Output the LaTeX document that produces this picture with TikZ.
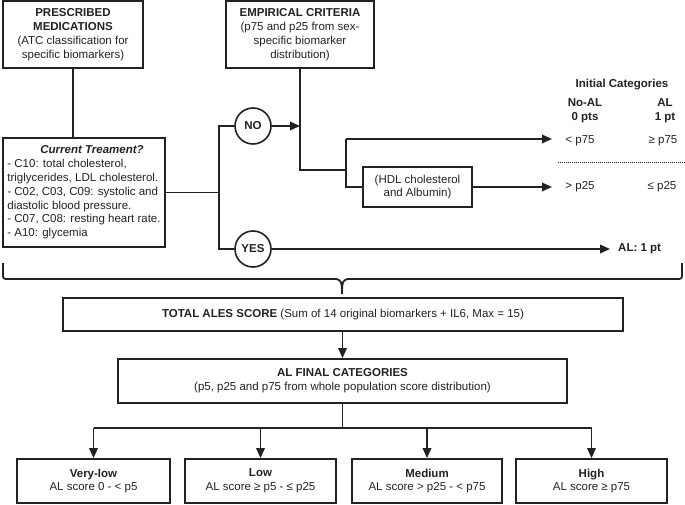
\documentclass[tikz,border=0pt]{standalone}
\usepackage{fontspec}
\setmainfont{Liberation Sans}
\usetikzlibrary{arrows.meta}
\definecolor{ink}{HTML}{222222}
\begin{document}
\begin{tikzpicture}[x=1pt,y=-1pt,
  every node/.style={font=\fontsize{11.5}{13.8}\selectfont, inner sep=0pt, text=ink},
  box/.style={draw=ink, line width=1.8pt, align=center},
  circ/.style={draw=ink, circle, line width=1.6pt, minimum size=36pt, font=\fontsize{11.5}{13.8}\selectfont\bfseries},
  conn/.style={draw=ink, line width=1.8pt},
  arr/.style={conn, -{Triangle[length=10pt,width=8.5pt]}},
  lbl/.style={align=center},
  blbl/.style={align=center, font=\fontsize{11.5}{13.8}\selectfont\bfseries},
]
\useasboundingbox (0,0) rectangle (685,505);

% top boxes
\node[box, minimum width=140pt, minimum height=67pt] (pres) at (73,34.5)
  {\textbf{PRESCRIBED}\\\textbf{MEDICATIONS}\\(ATC classification for\\specific biomarkers)};
\node[box, minimum width=148pt, minimum height=67pt] (emp) at (300,34.5)
  {\textbf{EMPIRICAL CRITERIA}\\(p75 and p25 from sex-\\specific biomarker\\distribution)};
\node[box, minimum width=162pt, minimum height=109pt, align=left] (cur) at (84,192.5)
  {\hspace*{33pt}\textbf{\textit{Current Treament?}}\\
   - C10: total cholesterol,\\
   triglycerides, LDL cholesterol.\\
   - C02, C03, C09: systolic and\\
   diastolic blood pressure.\\
   - C07, C08: resting heart rate.\\
   - A10: glycemia};
\draw[conn] (pres.south) -- (cur.north -| pres.south);

% decision circles
\node[circ] (no) at (253,126) {NO};
\node[circ] (yes) at (253,249) {YES};
\coordinate (jx) at (219,192.5);
\draw[conn] (cur.east) -- (jx);
\draw[conn] (no.west) -| (jx) |- (yes.west);

% empirical branch
\coordinate (e1) at (300,126);
\coordinate (e2) at (300,170);
\coordinate (jb) at (346,170);
\coordinate (t1) at (346,139);
\draw[arr] (no.east) -- (e1);
\draw[conn] (emp.south) -- (e2) -- (jb);
\node[box, minimum width=109pt, minimum height=40pt] (hdl) at (417.5,187)
  {(HDL cholesterol\\and Albumin)};
\draw[conn] (t1) -- (t1 |- hdl.west) -- (hdl.west);
\coordinate (a1) at (552,139);
\coordinate (a2) at (552,187);
\draw[arr] (t1) -- (a1);
\draw[arr] (hdl.east) -- (a2);

% yes branch
\node[blbl, anchor=west, inner xsep=8pt] (alpt) at (610,249) {AL: 1 pt};
\draw[arr] (yes.east) -- (alpt.west);

% initial categories
\node[blbl] (ic) at (622,85) {Initial Categories};
\node[blbl] (noal) at (585,111) {No-AL\\0 pts};
\node[blbl] (al) at (665,111) {AL\\1 pt};
\node[lbl] (lt75) at (580,141) {< p75};
\node[lbl] (ge75) at (663,141) {≥ p75};
\node[lbl] (gt25) at (580,187) {> p25};
\node[lbl] (le25) at (662,187) {≤ p25};
\coordinate (d1) at (558,163);
\coordinate (d2) at (685,163);
\draw[ink, line width=1pt, dash pattern=on 1pt off 1pt] (d1) -- (d2);

% brace
\coordinate (br1) at (3,263);
\coordinate (br2) at (682,263);
\coordinate (brt) at (342,294);
\draw[conn] (br1) -- (3,273) .. controls (3,279) .. (9,279) -- (334,279)
  .. controls (341,279) and (342,281) .. (brt)
  .. controls (342,281) and (343,279) .. (350,279) -- (676,279)
  .. controls (682,279) .. (682,273) -- (br2);

% total and final
\node[box, minimum width=560pt, minimum height=33pt] (total) at (343,314.5)
  {\textbf{TOTAL ALES SCORE} (Sum of 14 original biomarkers + IL6, Max = 15)};
\node[box, minimum width=449pt, minimum height=44pt] (final) at (342.5,381)
  {\textbf{AL FINAL CATEGORIES}\\(p5, p25 and p75 from whole population score distribution)};
\draw[arr] (final.north |- total.south) -- (final.north);

% bottom boxes
\node[box, minimum width=153pt, minimum height=44pt] (vl) at (93.5,481)
  {\textbf{Very-low}\\AL score 0 - < p5};
\node[box, minimum width=151pt, minimum height=44pt] (low) at (260.5,481)
  {\textbf{Low}\\AL score ≥ p5 - ≤ p25};
\node[box, minimum width=150pt, minimum height=44pt] (med) at (427,481)
  {\textbf{Medium}\\AL score > p25 - < p75};
\node[box, minimum width=151pt, minimum height=44pt] (high) at (591.5,481)
  {\textbf{High}\\AL score ≥ p75};
\coordinate (fj) at (342.5,428);
\draw[conn] (final.south) -- (fj);
\draw[conn] (vl.north |- fj) -- (high.north |- fj);
\foreach \n in {vl,low,med,high}
  \draw[arr] (\n.north |- fj) -- (\n.north);
\end{tikzpicture}
\end{document}
